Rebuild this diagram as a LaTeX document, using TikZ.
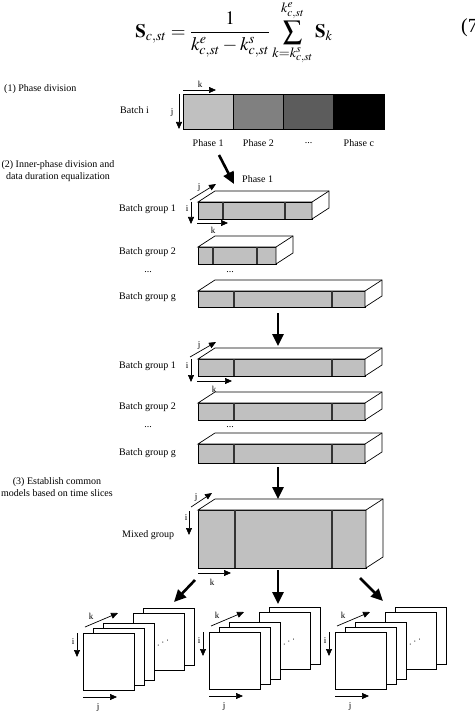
\documentclass[tikz,border=0pt]{standalone}
\usepackage{mathptmx}
\usepackage{fontspec}
\setmainfont{Liberation Serif}
\usetikzlibrary{arrows.meta}
\definecolor{boxgray}{HTML}{C0C0C0}
\definecolor{ph2}{HTML}{808080}
\definecolor{ph3}{HTML}{5C5C5C}
\newcommand{\slab}[7]{%
  \node[front, minimum width=#4pt, minimum height=#5pt, anchor=north west] (#1) at (#2,#3) {};
  \filldraw[face] (#1.north west) -- ++(17,-11) -- ++(#4,0) -- ++(0,#5) -- (#1.south east) -- (#1.north east) -- cycle;
  \draw[face] (#1.north east) -- ++(17,-11);
  \draw[divl] ([xshift=#6pt]#1.north west) -- ([xshift=#6pt]#1.south west);
  \draw[divl] ([xshift=#7pt]#1.north west) -- ([xshift=#7pt]#1.south west);
}
\newcommand{\sheetstack}[3]{%
  \node[sheet] (#1e) at ({143+#2},{608+#3}) {};
  \node[sheet] (#1d) at ({133+#2},{613+#3}) {};
  \node[sheet] (#1c) at ({103+#2},{623+#3}) {};
  \node[sheet] (#1b) at ({93+#2},{628+#3}) {};
  \node[sheet] (#1a) at ({83+#2},{633+#3}) {};
  \node[ax, rotate=30] (#1dots) at ({163+#2},{643+#3}) {. . .};
  \draw[axis] ([xshift=2pt,yshift=6pt]#1a.north west) -- ++(33,-14);
  \node[ax] (#1k) at ({91+#2},{616+#3}) {k};
  \draw[axis] ([xshift=-6pt]#1a.north west) -- ++(0,24);
  \node[ax] (#1i) at ({73+#2},{642+#3}) {i};
  \draw[axis] ([yshift=-7pt]#1a.south west) -- ++(34,0);
  \node[ax] (#1j) at ({98+#2},{707+#3}) {j};
}
\begin{document}
\begin{tikzpicture}[x=1pt,y=-1pt,
  lbl/.style={font=\fontsize{10}{12}\selectfont, inner sep=0pt},
  ax/.style={font=\fontsize{9}{10}\selectfont, inner sep=0pt},
  axis/.style={line width=0.7pt, -{Triangle[length=7pt,width=6pt]}},
  big/.style={line width=2.6pt, -{Triangle[length=12pt,width=11pt]}},
  front/.style={draw, fill=boxgray, line width=0.9pt, inner sep=0pt, outer sep=0pt, rectangle},
  face/.style={draw, fill=white, line width=0.7pt, line join=miter},
  divl/.style={draw=black!80, line width=1.1pt},
  cell/.style={draw, line width=0.8pt, inner sep=0pt, outer sep=0pt, minimum width=50.25pt, minimum height=35pt, anchor=north west},
  sheet/.style={draw, fill=white, line width=0.9pt, minimum width=51pt, minimum height=57pt, anchor=north west, inner sep=0pt, outer sep=0pt},
]
\useasboundingbox (0,0) rectangle (474,711);

% equation
\node (eq) at (234,33) {\fontsize{19}{23}\selectfont $\displaystyle \mathbf{S}_{c,st}=\frac{1}{k^{e}_{c,st}-k^{s}_{c,st}}\sum_{k=k^{s}_{c,st}}^{k^{e}_{c,st}}\mathbf{S}_{k}$};
\node[anchor=west, inner sep=0pt, font=\fontsize{20}{24}\selectfont] (eqno) at (461,28) {(7)};

% (1) phase division
\node[lbl, anchor=west] (t1) at (4,89) {(1) Phase division};
\node[lbl, anchor=west] (bi) at (120,110) {Batch i};
\node[cell, fill=boxgray] (p1) at (183,94) {};
\node[cell, fill=ph2] (p2) at (233.25,94) {};
\node[cell, fill=ph3] (p3) at (283.5,94) {};
\node[cell, fill=black] (p4) at (333.75,94) {};
\draw[axis] ([yshift=4pt]p1.north west) -- ++(33,0);
\node[ax] (tk) at (200,84) {k};
\draw[axis] ([xshift=-4pt]p1.north west) -- ++(0,35);
\node[ax] (tj) at (172,112) {j};
\node[lbl] (ph1) at ([yshift=-14pt]p1.south) {Phase 1};
\node[lbl] (ph2l) at ([yshift=-14pt]p2.south) {Phase 2};
\node[lbl] (ph3l) at ([yshift=-14pt]p3.south) {...};
\node[lbl] (ph4l) at ([yshift=-14pt]p4.south) {Phase c};

% (2) inner-phase division
\node[lbl, align=center] (t2) at (58,171) {(2) Inner-phase division and\\data duration equalization};
\coordinate (a1s) at (219,155);
\coordinate (a1e) at (234,184);
\draw[big] (a1s) -- (a1e);
\node[lbl, anchor=west] (phb) at (242,179) {Phase 1};

\slab{g1}{198}{202}{114}{17}{25}{87}
\slab{g2}{198}{247}{78}{17}{15}{59}
\slab{gg}{198}{291}{167}{16}{36}{134}
\node[lbl, anchor=west] (lg1) at (119,209) {Batch group 1};
\node[lbl, anchor=west] (lg2) at (119,252) {Batch group 2};
\node[lbl] (ld1) at (148,272) {...};
\node[lbl] (ld2) at (230,272) {...};
\node[lbl, anchor=west] (lgg) at (119,297) {Batch group g};
\draw[axis] ([xshift=-8pt,yshift=2pt]g1.north west) -- ++(26,-16);
\node[ax] (g1j) at (199,187) {j};
\draw[axis] ([xshift=-7pt]g1.north west) -- ++(0,22);
\node[ax] (g1i) at (187,209) {i};
\draw[axis] ([xshift=-1pt,yshift=-4pt]g1.south west) -- ++(31,0);
\node[ax] (g1k) at (213,230) {k};

\coordinate (a2s) at (278,313);
\coordinate (a2e) at (278,346);
\draw[big] (a2s) -- (a2e);

\slab{h1}{198}{359}{167}{17}{36}{134}
\slab{h2}{198}{403}{167}{17}{36}{134}
\slab{hg}{198}{444}{167}{19}{36}{134}
\node[lbl, anchor=west] (lh1) at (119,366) {Batch group 1};
\node[lbl, anchor=west] (lh2) at (119,407) {Batch group 2};
\node[lbl] (le1) at (148,427) {...};
\node[lbl] (le2) at (230,427) {...};
\node[lbl, anchor=west] (lhg) at (119,453) {Batch group g};
\draw[axis] ([xshift=-8pt,yshift=2pt]h1.north west) -- ++(26,-15);
\node[ax] (h1j) at (199,345) {j};
\draw[axis] ([xshift=-7pt]h1.north west) -- ++(0,23);
\node[ax] (h1i) at (187,366) {i};
\draw[axis] ([xshift=-1pt,yshift=-5pt]h1.south west) -- ++(35,0);
\node[ax] (h1k) at (214,389) {k};

\coordinate (a3s) at (278,467);
\coordinate (a3e) at (278,499);
\draw[big] (a3s) -- (a3e);

% (3) common models
\node[lbl, align=center] (t3) at (57,487) {(3) Establish common\\models based on time slices};
\slab{mx}{198}{510}{168}{58}{37}{134}
\node[lbl, anchor=west] (lmx) at (122,535) {Mixed group};
\draw[axis] ([xshift=-7pt,yshift=3pt]mx.north west) -- ++(21,-14);
\node[ax] (mxj) at (196,497) {j};
\draw[axis] ([xshift=-9pt,yshift=-1pt]mx.north west) -- ++(0,24);
\node[ax] (mxi) at (186,518) {i};
\draw[axis] ([yshift=-5pt]mx.south west) -- ++(33,0);
\node[ax] (mxk) at (212,582) {k};

\coordinate (a4s) at (195,580);
\coordinate (a4e) at (174,602);
\coordinate (a5s) at (278,570);
\coordinate (a5e) at (278,604);
\coordinate (a6s) at (360,578);
\coordinate (a6e) at (383,601);
\draw[big] (a4s) -- (a4e);
\draw[big] (a5s) -- (a5e);
\draw[big] (a6s) -- (a6e);

\sheetstack{sa}{0}{0}
\sheetstack{sb}{126}{-1}
\sheetstack{sc}{252}{-1}
\end{tikzpicture}
\end{document}
